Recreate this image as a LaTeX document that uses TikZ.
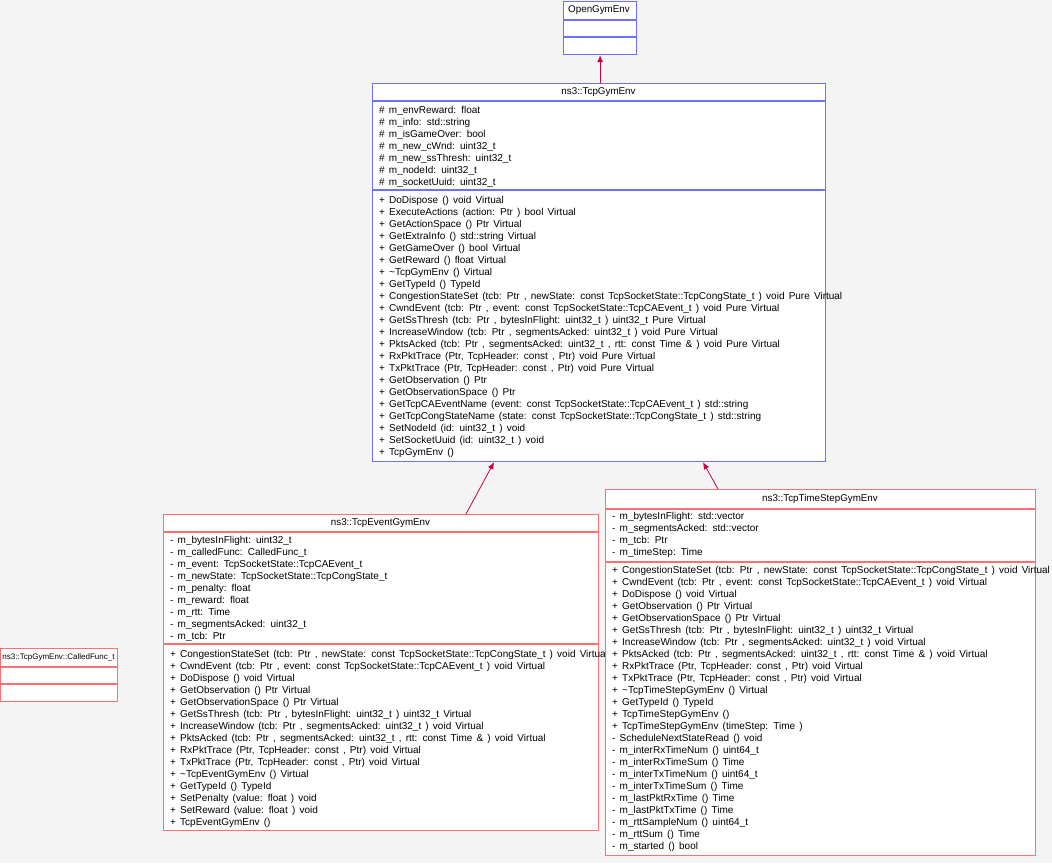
\documentclass[tikz,border=0pt]{standalone}
\usepackage{fontspec}
\setmainfont{Liberation Sans}
\newfontfamily\memfont{Liberation Sans}[WordSpace=1.5]
\usetikzlibrary{calc,arrows.meta}
\definecolor{bg}{HTML}{F4F4F4}
\definecolor{bblue}{HTML}{7070FF}
\definecolor{bred}{HTML}{FF7070}
\definecolor{arr}{HTML}{C8004A}
\begin{document}
\catcode`\_=12
\begin{tikzpicture}[x=1pt,y=-1pt,
  cls/.style={draw=#1,fill=white,line width=1.2pt,anchor=north west,inner sep=0pt},
  txt/.style={anchor=west,inner sep=0pt,font=\memfont\fontsize{10}{11}\selectfont},
  ttl/.style={anchor=center,inner sep=0pt,font=\fontsize{9.8}{11}\selectfont},
  sep/.style={draw=#1,line width=1.2pt},
  inh/.style={draw=arr,line width=0.8pt,-{Latex[length=7pt,width=6pt]}}]
\path[fill=bg] (0,0) rectangle (1052,863);
\useasboundingbox (0,0) rectangle (1052,863);
\newcommand\mylines[4]{% prefix, x, y0, list
  \foreach \t [count=\i] in {#4}{\node[txt] (#1\i) at (#2,#3+12*\i-12) {\t};}}
% OpenGymEnv
\node[cls=bblue,minimum width=73pt,minimum height=53pt] (oge) at (563,1) {};
\node[ttl] (ogeT) at (599,10.5) {OpenGymEnv};
\draw[sep=bblue] (563,20) -- (636,20);
\draw[sep=bblue] (563,37) -- (636,37);
% TcpGymEnv
\node[cls=bblue,minimum width=453pt,minimum height=378pt] (gym) at (372,83) {};
\node[ttl] (gymT) at (598.5,92) {ns3::TcpGymEnv};
\draw[sep=bblue] (372,101) -- (825,101);
\draw[sep=bblue] (372,190) -- (825,190);
\mylines{ga}{379}{111}{{\# m_envReward: float},{\# m_info: std::string},{\# m_isGameOver: bool},{\# m_new_cWnd: uint32_t},{\# m_new_ssThresh: uint32_t},{\# m_nodeId: uint32_t},{\# m_socketUuid: uint32_t}}
\mylines{gm}{379}{201}{{+ DoDispose () void Virtual},{+ ExecuteActions (action: Ptr ) bool Virtual},{+ GetActionSpace () Ptr Virtual},{+ GetExtraInfo () std::string Virtual},{+ GetGameOver () bool Virtual},{+ GetReward () float Virtual},{+ \textasciitilde TcpGymEnv () Virtual},{+ GetTypeId () TypeId},{+ CongestionStateSet (tcb: Ptr , newState: const TcpSocketState::TcpCongState_t ) void Pure Virtual},{+ CwndEvent (tcb: Ptr , event: const TcpSocketState::TcpCAEvent_t ) void Pure Virtual},{+ GetSsThresh (tcb: Ptr , bytesInFlight: uint32_t ) uint32_t Pure Virtual},{+ IncreaseWindow (tcb: Ptr , segmentsAcked: uint32_t ) void Pure Virtual},{+ PktsAcked (tcb: Ptr , segmentsAcked: uint32_t , rtt: const Time \& ) void Pure Virtual},{+ RxPktTrace (Ptr, TcpHeader: const , Ptr) void Pure Virtual},{+ TxPktTrace (Ptr, TcpHeader: const , Ptr) void Pure Virtual},{+ GetObservation () Ptr},{+ GetObservationSpace () Ptr},{+ GetTcpCAEventName (event: const TcpSocketState::TcpCAEvent_t ) std::string},{+ GetTcpCongStateName (state: const TcpSocketState::TcpCongState_t ) std::string},{+ SetNodeId (id: uint32_t ) void},{+ SetSocketUuid (id: uint32_t ) void},{+ TcpGymEnv ()}}
% TcpEventGymEnv
\node[cls=bred,minimum width=435pt,minimum height=316pt] (ev) at (163,514) {};
\node[ttl] (evT) at (380.5,523) {ns3::TcpEventGymEnv};
\draw[sep=bred] (163,532) -- (598,532);
\draw[sep=bred] (163,644) -- (598,644);
\mylines{ea}{170}{541}{{- m_bytesInFlight: uint32_t},{- m_calledFunc: CalledFunc_t},{- m_event: TcpSocketState::TcpCAEvent_t},{- m_newState: TcpSocketState::TcpCongState_t},{- m_penalty: float},{- m_reward: float},{- m_rtt: Time},{- m_segmentsAcked: uint32_t},{- m_tcb: Ptr}}
\mylines{em}{170}{655}{{+ CongestionStateSet (tcb: Ptr , newState: const TcpSocketState::TcpCongState_t ) void Virtual},{+ CwndEvent (tcb: Ptr , event: const TcpSocketState::TcpCAEvent_t ) void Virtual},{+ DoDispose () void Virtual},{+ GetObservation () Ptr Virtual},{+ GetObservationSpace () Ptr Virtual},{+ GetSsThresh (tcb: Ptr , bytesInFlight: uint32_t ) uint32_t Virtual},{+ IncreaseWindow (tcb: Ptr , segmentsAcked: uint32_t ) void Virtual},{+ PktsAcked (tcb: Ptr , segmentsAcked: uint32_t , rtt: const Time \& ) void Virtual},{+ RxPktTrace (Ptr, TcpHeader: const , Ptr) void Virtual},{+ TxPktTrace (Ptr, TcpHeader: const , Ptr) void Virtual},{+ \textasciitilde TcpEventGymEnv () Virtual},{+ GetTypeId () TypeId},{+ SetPenalty (value: float ) void},{+ SetReward (value: float ) void},{+ TcpEventGymEnv ()}}
% TcpTimeStepGymEnv
\node[cls=bred,minimum width=430pt,minimum height=366pt] (ts) at (605,489) {};
\node[ttl] (tsT) at (820,498.5) {ns3::TcpTimeStepGymEnv};
\draw[sep=bred] (605,509) -- (1035,509);
\draw[sep=bred] (605,562) -- (1035,562);
\mylines{ta}{612}{517}{{- m_bytesInFlight: std::vector},{- m_segmentsAcked: std::vector},{- m_tcb: Ptr},{- m_timeStep: Time}}
\mylines{tm}{612}{571}{{+ CongestionStateSet (tcb: Ptr , newState: const TcpSocketState::TcpCongState_t ) void Virtual},{+ CwndEvent (tcb: Ptr , event: const TcpSocketState::TcpCAEvent_t ) void Virtual},{+ DoDispose () void Virtual},{+ GetObservation () Ptr Virtual},{+ GetObservationSpace () Ptr Virtual},{+ GetSsThresh (tcb: Ptr , bytesInFlight: uint32_t ) uint32_t Virtual},{+ IncreaseWindow (tcb: Ptr , segmentsAcked: uint32_t ) void Virtual},{+ PktsAcked (tcb: Ptr , segmentsAcked: uint32_t , rtt: const Time \& ) void Virtual},{+ RxPktTrace (Ptr, TcpHeader: const , Ptr) void Virtual},{+ TxPktTrace (Ptr, TcpHeader: const , Ptr) void Virtual},{+ \textasciitilde TcpTimeStepGymEnv () Virtual},{+ GetTypeId () TypeId},{+ TcpTimeStepGymEnv ()},{+ TcpTimeStepGymEnv (timeStep: Time )},{- ScheduleNextStateRead () void},{- m_interRxTimeNum () uint64_t},{- m_interRxTimeSum () Time},{- m_interTxTimeNum () uint64_t},{- m_interTxTimeSum () Time},{- m_lastPktRxTime () Time},{- m_lastPktTxTime () Time},{- m_rttSampleNum () uint64_t},{- m_rttSum () Time},{- m_started () bool}}
% CalledFunc_t
\node[cls=bred,minimum width=117pt,minimum height=53pt] (cf) at (0,648) {};
\node[ttl,font=\fontsize{8}{9}\selectfont] (cfT) at (58.5,657) {ns3::TcpGymEnv::CalledFunc_t};
\draw[sep=bred] (0,667) -- (117,667);
\draw[sep=bred] (0,684) -- (117,684);
% inheritance
\draw[inh] (gym.north -| oge.south) -- (oge.south);
\draw[inh] ($(ev.north west)+(303,0)$) -- ($(gym.south west)+(122,0)$);
\draw[inh] ($(ts.north west)+(113,0)$) -- ($(gym.south west)+(331,0)$);
\end{tikzpicture}
\end{document}
